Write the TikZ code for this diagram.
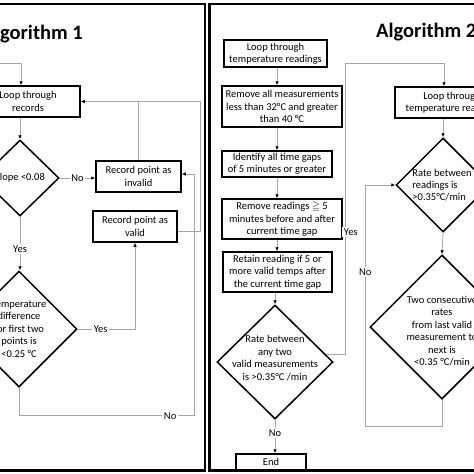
\documentclass[tikz,border=0pt]{standalone}
\usepackage{fontspec}
\setmainfont{Carlito}
\usepackage{amssymb}
\usetikzlibrary{shapes.geometric,arrows.meta}

\begin{document}
\begin{tikzpicture}[x=1pt,y=-1pt,font=\fontsize{10.5}{12.4}\selectfont,
	panel/.style={line width=2.8pt,black},
	box/.style={draw=black,line width=1.5pt,rectangle,align=center,inner sep=1pt},
	decision/.style={draw=black,line width=1.5pt,diamond,inner sep=0pt},
	dtext/.style={align=center,inner sep=0pt},
	line/.style={draw=black!35,line width=0.8pt},
	conn/.style={line,-{Latex[black,length=4pt,width=3.5pt]}},
	lbl/.style={fill=white,inner sep=1.5pt},
	title/.style={font=\fontsize{20.5}{24}\selectfont\bfseries,inner sep=0pt}]
			\useasboundingbox (0,0) rectangle (474,474);
			\clip (0,0) rectangle (474,474);
			\draw[panel] (-10,4) -- (205,4) -- (205,470.5) -- (-10,470.5);
			\draw[panel] (490,4) -- (209.5,4) -- (209.5,470.5) -- (490,470.5);
			\node[title,anchor=base east] (alg1) at (83,39) {Algorithm 1};
			\node[box,minimum width=104,minimum height=31] (loop1) at (28,101.5) {Loop through\\records};
			\node[decision,minimum width=78,minimum height=76,label={[dtext]center:Slope <0.08}] (slope) at (20,178) {};
			\node[box,minimum width=85,minimum height=31] (invalid) at (138.5,176.5) {Record point as\\invalid};
			\node[box,minimum width=84,minimum height=31] (valid) at (135,226.5) {Record point as\\valid};
			\node[decision,minimum width=116,minimum height=116,label={[dtext]center:Temperature\\difference\\for first two\\points is\\<0.25 °C}] (tdiff) at (19,329) {};
			\coordinate (start1) at (-5,63);
			\draw[conn] (start1) -| ([xshift=-7pt]loop1.north);
			\draw[conn] (loop1.south -| slope.north) -- (slope.north);
			\draw[conn] (slope.east) -- node[lbl]{No} (slope.east -| invalid.west);
			\draw[line] (invalid.north) -- (invalid.north |- loop1.east);
			\draw[conn] ([yshift=-5pt]valid.east) -| ([xshift=120pt]loop1.east) -- (loop1.east);
			\draw[conn] (slope.south) -- node[lbl,pos=0.6]{Yes} (slope.south |- tdiff.north);
			\draw[conn] (tdiff.east) -| node[lbl,pos=0.2]{Yes} (valid.south);
			\draw[conn] (tdiff.south) -- ++(0,28) -| node[lbl,pos=0.43]{No} ([xshift=13pt,yshift=2.5pt]invalid.east) -- ([yshift=2.5pt]invalid.east);
			\node[title,anchor=base west] (alg2) at (376,37) {Algorithm 2};
			\node[box,minimum width=103,minimum height=27] (loopA) at (275.5,53.5) {Loop through\\temperature readings};
			\node[box,minimum width=120,minimum height=41] (clean) at (282,106.5) {Remove all measurements\\less than 32°C and greater\\than 40 °C};
			\node[box,minimum width=110,minimum height=26] (gaps) at (277,164) {Identify all time gaps\\of 5 minutes or greater};
			\node[box,minimum width=120,minimum height=40] (trim) at (282,219) {Remove readings $\geqq$ 5\\minutes before and after\\current time gap};
			\node[box,minimum width=109,minimum height=40] (retain) at (277.5,272) {Retain reading if 5 or\\more valid temps after\\the current time gap};
			\node[decision,minimum width=116,minimum height=114,label={[dtext,yshift=4pt]center:Rate between\\any two\\valid measurements\\is >0.35°C /min}] (rate1) at (275,362) {};
			\node[box,minimum width=70,minimum height=16] (finish) at (271,462) {End};
			\node[box,minimum width=114,minimum height=31] (loopB) at (452,102.5) {Loop through\\temperature readings};
			\node[decision,minimum width=94,minimum height=94,label={[dtext,align=left,anchor=west,xshift=17pt]west:Rate between\\readings is\\>0.35°C/min}] (rate2) at (443,185) {};
			\node[decision,minimum width=144,minimum height=144,label={[dtext,yshift=-4pt]center:Two consecutive\\rates\\from last valid\\measurement to\\next is\\<0.35 °C/min}] (rate3) at (442,327) {};
			\coordinate (yesTop) at (345,63);
			\draw[conn] (loopA.south -| gaps.north) -- (clean.north -| gaps.north);
			\draw[conn] (clean.south -| gaps.north) -- (gaps.north);
			\draw[conn] (gaps.south) -- (trim.north -| gaps.south);
			\draw[conn] (trim.south -| gaps.south) -- (retain.north -| gaps.south);
			\draw[conn] (retain.south -| rate1.north) -- (rate1.north);
			\draw[conn] (rate1.south) -- node[lbl,pos=0.4]{No} (rate1.south |- finish.north);
			\draw[conn] (rate1.8) -| node[lbl,pos=0.71,anchor=west,xshift=-3pt]{Yes} (yesTop) -| ([xshift=-8pt]loopB.north);
			\draw[conn] (loopB.south -| rate2.north) -- (rate2.north);
			\draw[conn] (rate2.south) -- (rate3.north);
			\draw[conn] (rate3.south) -- ++(0,27) -| node[lbl,pos=0.82]{No} ([xshift=-30pt]rate2.west) -- (rate2.west);
		\end{tikzpicture}
\end{document}
